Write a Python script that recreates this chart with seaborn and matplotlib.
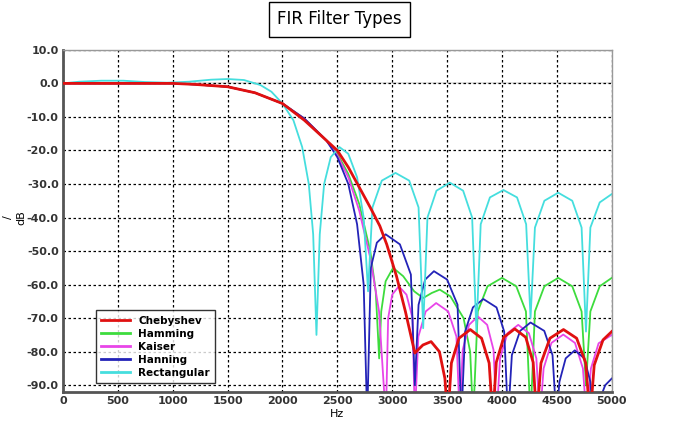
import numpy as np
import pandas as pd
import seaborn as sns
import matplotlib
matplotlib.use("Agg")
import matplotlib.pyplot as plt

passband_f = [0, 500, 1000, 1200, 1500, 1750, 2000]
passband_db = [0, 0, 0, -0.3, -1.0, -2.8, -6.0]

cheb_f = passband_f + [2200, 2400, 2500, 2600, 2700, 2800, 2887, 2950, 3039, 3120, 3206, 3280, 3354, 3430, 3480, 3506,
                       3539, 3608, 3711, 3814, 3883, 3916, 3948, 4016, 4116, 4216, 4284, 4316,
                       4355, 4437, 4560, 4680, 4763, 4802, 4840, 4920, 5000]
cheb_db = passband_db + [-11, -17, -20, -25, -31, -37, -42.5, -48, -57.5, -68, -80.4, -78, -77, -80, -88, -100,
                         -83.4, -76, -73.4, -76, -83.4, -100, -83.2, -75.7, -73.2, -75.7, -83.2, -100,
                         -83.4, -76, -73.4, -76, -83.4, -100, -84, -76.5, -74]

hamm_f = passband_f + [2200, 2400, 2500, 2600, 2700, 2800, 2850, 2881, 2900, 2940, 3008, 3100, 3200, 3282, 3360, 3433,
                       3530, 3650, 3710, 3737, 3779, 3868, 4000, 4130, 4218, 4260,
                       4300, 4386, 4512, 4640, 4725, 4765, 4805, 4890, 5000]
hamm_db = passband_db + [-10.5, -17, -21, -27, -36, -50, -62, -82, -68, -59, -55, -57.5, -62, -64, -62.5, -61.5,
                         -63.5, -70, -80, -100, -68, -60.5, -58, -60.5, -68, -100,
                         -68, -60.5, -58, -60.5, -68, -90, -68, -60.5, -58]

kais_f = passband_f + [2200, 2400, 2500, 2600, 2700, 2800, 2880, 2942, 2963, 3000, 3060, 3130, 3185, 3206,
                       3238, 3305, 3400, 3510, 3585, 3615, 3642, 3700, 3780, 3865, 3923, 3950,
                       3982, 4050, 4148, 4245, 4313, 4345, 4379, 4450, 4558, 4665, 4737, 4771, 4810, 4880, 5000]
kais_db = passband_db + [-10.5, -17, -21.5, -28, -38, -52, -68, -100, -70, -63, -60.5, -63, -70, -100,
                         -75.5, -68, -65.5, -68, -75.5, -100, -79.5, -72, -69.5, -72, -79.5, -100,
                         -82, -74.5, -72, -74.5, -82, -100, -85, -77.4, -74.9, -77.4, -85, -100, -85, -77.5, -75]

hann_f = passband_f + [2200, 2400, 2500, 2600, 2680, 2740, 2772, 2805, 2860, 2940, 3070, 3170, 3206,
                       3240, 3300, 3380, 3500, 3595, 3630, 3664, 3735, 3830, 3950, 4020, 4055,
                       4090, 4165, 4260, 4385, 4460, 4496, 4523, 4580, 4663, 4750, 4805, 4830, 4870, 4940, 5000]
hann_db = passband_db + [-10.5, -17, -22, -30, -42, -60, -100, -55, -47.5, -45, -48, -57, -90,
                         -66, -58.5, -56, -58.5, -66, -100, -74, -66.8, -64.3, -66.8, -74, -100,
                         -81, -73.8, -71.3, -73.8, -81, -100, -89, -82, -79.6, -82, -89, -100, -96, -90, -88]

rect_f = [0, 150, 350, 550, 750, 950, 1150, 1350, 1500, 1650, 1800, 1900, 2000, 2100, 2180, 2240, 2280, 2310,
          2340, 2380, 2440, 2520, 2600, 2680, 2740, 2780, 2820, 2905, 3030, 3155, 3240, 3282,
          3321, 3403, 3525, 3646, 3728, 3767, 3806, 3890, 4013, 4137, 4220, 4260,
          4300, 4386, 4512, 4640, 4725, 4765, 4805, 4890, 5000]
rect_db = [0, 0.5, 0.8, 0.8, 0.4, 0.2, 0.5, 1.1, 1.3, 1.0, -0.5, -2.5, -6, -11, -19, -30, -45, -75,
           -45, -30, -22, -19, -21, -28, -40, -62, -37, -29, -26.7, -29, -37, -73,
           -40, -32, -29.6, -32, -40, -74, -42, -34, -31.8, -34, -42, -70,
           -43, -35, -32.6, -35, -43, -74, -43, -35.5, -33]

names = ["Chebyshev", "Hamming", "Kaiser", "Hanning", "Rectangular"]
colors = ["#e01010", "#3ddc3d", "#e845e8", "#2323b8", "#45dede"]
series = [(cheb_f, cheb_db), (hamm_f, hamm_db), (kais_f, kais_db), (hann_f, hann_db), (rect_f, rect_db)]

frames = []
for n, (f, d) in zip(names, series):
    frames.append(pd.DataFrame({"Hz": f, "dB": d, "Filter": n, "order": range(len(f))}))
df = pd.concat(frames, ignore_index=True)

fig = plt.figure(figsize=(6.76, 4.26), dpi=100)
ax = fig.add_axes([0.093, 0.08, 0.812, 0.803])
ax.axhline(0, color="#dddddd", lw=1.2, zorder=0)
sns.lineplot(data=df, x="Hz", y="dB", hue="Filter", hue_order=names, palette=colors,
             sort=False, units="order" if False else None, estimator=None, ax=ax, lw=1.3)
for line, n in zip(ax.lines[1:], names):
    if n == "Chebyshev":
        line.set_linewidth(2.0)
        line.set_zorder(5)

ax.set_xlim(0, 5000)
ax.set_ylim(-92, 10)
ax.set_xticks(np.arange(0, 5001, 500))
ax.set_yticks(np.arange(-90, 11, 10))
ax.set_yticklabels([f"{v:.1f}" for v in np.arange(-90, 11, 10)])
ax.tick_params(labelsize=8, length=0, pad=3)
for t in ax.get_xticklabels() + ax.get_yticklabels():
    t.set_fontweight("bold")
    t.set_color("#333333")
ax.grid(True, color="black", linestyle=(0, (2, 2)), lw=0.9)
for s in ["left", "bottom"]:
    ax.spines[s].set_color("#555555"); ax.spines[s].set_linewidth(2)
for s in ["top", "right"]:
    ax.spines[s].set_color("#999999"); ax.spines[s].set_linewidth(1)
ax.set_xlabel("Hz", fontsize=8, labelpad=2)
ax.set_ylabel("")
fig.text(0.022, 0.49, "/\ndB", rotation=90, fontsize=8, va="center", ha="center", linespacing=1.5)

leg = ax.legend(loc="lower left", fontsize=7.5, frameon=True, fancybox=False,
                edgecolor="black", borderpad=0.5, handlelength=2.8, labelspacing=0.3,
                bbox_to_anchor=(0.05, 0.01))
leg.get_frame().set_linewidth(1)
for h in leg.get_lines():
    h.set_linewidth(2)
for t in leg.get_texts():
    t.set_fontweight("bold")

fig.text(0.502, 0.955, "FIR Filter Types", fontsize=12, ha="center", va="center",
         bbox=dict(boxstyle="square,pad=0.5", fc="white", ec="black", lw=1))
fig.savefig("out.png", dpi=100)
